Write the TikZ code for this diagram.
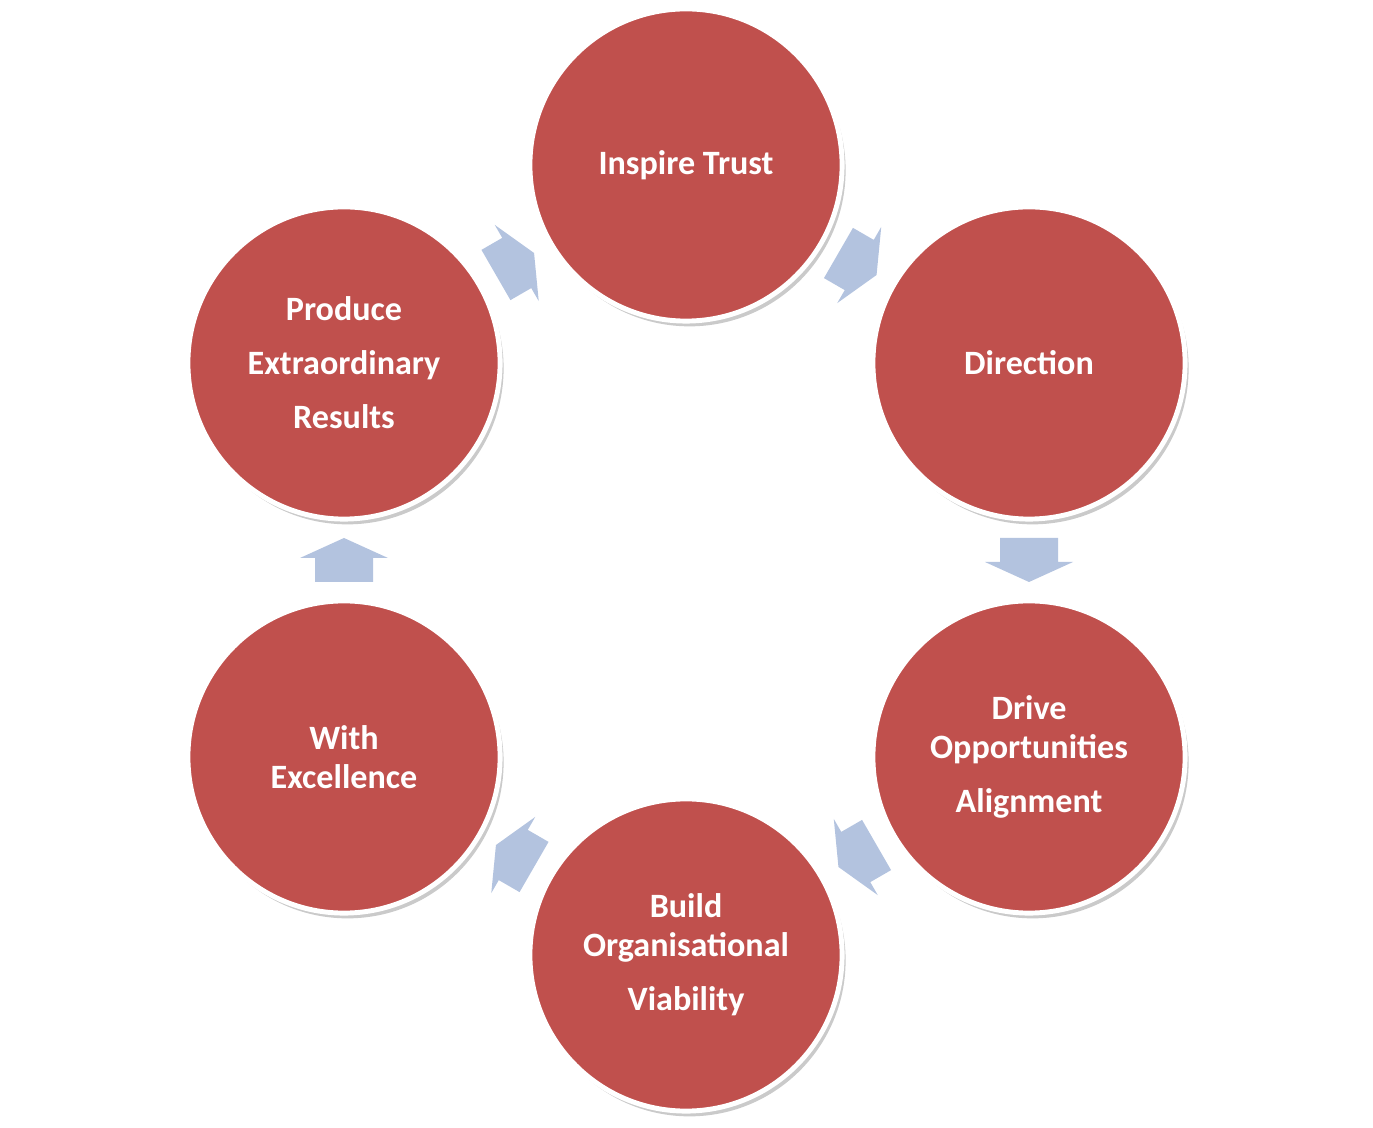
\documentclass[tikz,border=0pt]{standalone}
\usepackage{fontspec}
\setmainfont{Carlito}
\usetikzlibrary{shadows}
\begin{document}
\begin{tikzpicture}[x=0.01cm,y=0.01cm,
  stagec/.style={circle,minimum size=3.12cm,inner sep=0pt,fill={rgb,255:red,192;green,80;blue,77},draw=white,line width=1.4pt,
    drop shadow={shadow xshift=1pt,shadow yshift=-1.5pt,opacity=0.35,fill=black!60},
    text=white,align=center,font=\fontsize{9.7}{11.1}\selectfont\bfseries},
  arr/.style={fill={rgb,255:red,179;green,195;blue,223}}]
\useasboundingbox (0,0) rectangle (1373,1127);
\node[stagec] (it) at (686,962) {Inspire Trust};
\node[stagec] (d) at (1029,764) {Direction};
\node[stagec] (do) at (1029,370) {Drive\\Opportunities\\[4.3pt]Alignment};
\node[stagec] (b) at (686,172) {Build\\Organisational\\[4.3pt]Viability};
\node[stagec] (w) at (344,370) {With\\Excellence};
\node[stagec] (p) at (344,764) {Produce\\[4.3pt]Extraordinary\\[4.3pt]Results};
\foreach \mx/\my/\a in {857.5/863/-30, 1029/567/-90, 857.5/271/-150, 515/271/150, 344/567/90, 515/863/30}{
  \fill[arr,shift={(\mx,\my)},rotate=\a] (-22,-29) -- (2,-29) -- (2,-44) -- (22,0) -- (2,44) -- (2,29) -- (-22,29) -- cycle;
}
\end{tikzpicture}
\end{document}
